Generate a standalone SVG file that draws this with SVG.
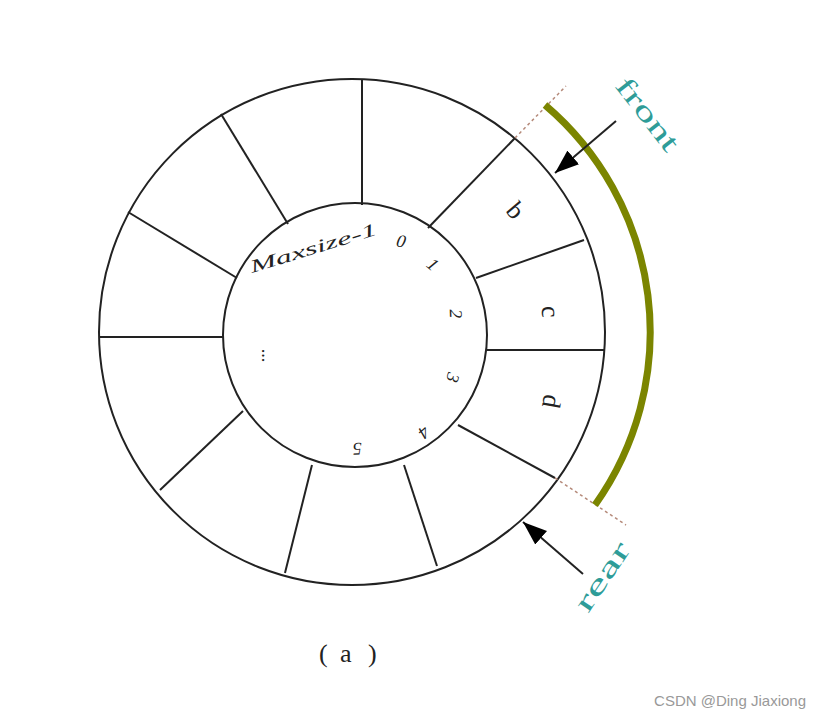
<svg xmlns="http://www.w3.org/2000/svg" width="822" height="719" viewBox="0 0 822 719">
<style>
.ring{fill:none;stroke:#222;stroke-width:2}
.spoke{stroke:#222;stroke-width:2}
.lbl{font-family:"Liberation Serif",serif;fill:#222}
.teal{font-family:"Liberation Serif",serif;fill:#2e9c98;font-size:28px}
.dash{stroke:#b58a7a;stroke-width:1.5;stroke-dasharray:3 3}
.arr{stroke:#222;stroke-width:2;fill:none}
</style>
<defs>
<marker id="tri" viewBox="0 0 24 18" refX="24" refY="9" markerWidth="24" markerHeight="18" markerUnits="userSpaceOnUse" orient="auto">
<path d="M0,0 L24,9 L0,18 z" fill="#000"/>
</marker>
</defs>
<rect width="822" height="719" fill="#fff"/>
<g id="ring">
<circle class="ring" cx="352" cy="332" r="253"/>
<circle class="ring" cx="355" cy="335" r="132"/>
</g>
<g id="spokes">
<line class="spoke" x1="362" y1="205" x2="362" y2="79"/>
<line class="spoke" x1="428" y1="228" x2="515" y2="138"/>
<line class="spoke" x1="476" y1="278" x2="584" y2="240"/>
<line class="spoke" x1="487" y1="350" x2="605" y2="350"/>
<line class="spoke" x1="458" y1="425" x2="555" y2="478"/>
<line class="spoke" x1="404" y1="465" x2="437" y2="566"/>
<line class="spoke" x1="312" y1="465" x2="285" y2="573"/>
<line class="spoke" x1="243" y1="411" x2="160" y2="490"/>
<line class="spoke" x1="224" y1="337" x2="99" y2="337"/>
<line class="spoke" x1="237" y1="278" x2="128" y2="212"/>
<line class="spoke" x1="288" y1="224" x2="221" y2="114"/>
</g>
<g id="cell-labels" class="lbl" font-size="26">
<text transform="translate(509 216) rotate(50)" text-anchor="middle">b</text>
<text transform="translate(542 312) rotate(88)" text-anchor="middle">c</text>
<text transform="translate(543 400) rotate(100)" text-anchor="middle">d</text>
</g>
<g id="index-labels" class="lbl" font-size="18" font-style="italic">
<text transform="translate(252 273) rotate(-17)" textLength="132" lengthAdjust="spacingAndGlyphs">Maxsize-1</text>
<text transform="translate(400 247) rotate(12)" text-anchor="middle">0</text>
<text transform="translate(429 269) rotate(40)" text-anchor="middle">1</text>
<text transform="translate(450 314) rotate(88)" text-anchor="middle">2</text>
<text transform="translate(447 376) rotate(105)" text-anchor="middle">3</text>
<text transform="translate(420 428) rotate(140)" text-anchor="middle">4</text>
<text transform="translate(357 443) rotate(178)" text-anchor="middle">5</text>
<text transform="translate(262 356) rotate(90)" text-anchor="middle">...</text>
</g>
<g id="connectors">
<line class="dash" x1="515" y1="138" x2="566" y2="86"/>
<line class="dash" x1="555" y1="478" x2="626" y2="525"/>
<path d="M545 105 A298 298 0 0 1 595 505" fill="none" stroke="#7b8500" stroke-width="7"/>
<line class="arr" x1="616" y1="121" x2="555" y2="173" marker-end="url(#tri)"/>
<line class="arr" x1="583" y1="574" x2="523" y2="522" marker-end="url(#tri)"/>
</g>
<g id="front">
<text class="teal" transform="translate(614 86) rotate(52)" textLength="86" lengthAdjust="spacingAndGlyphs">front</text>
</g>
<g id="rear">
<text class="teal" transform="translate(588 614) rotate(-56)" textLength="78" lengthAdjust="spacingAndGlyphs">rear</text>
</g>
<g id="caption">
<text class="lbl" y="662" font-size="26" font-weight="300"><tspan x="319">(</tspan><tspan x="340">a</tspan><tspan x="368">)</tspan></text>
</g>
<text x="806" y="706" font-family="'Liberation Sans',sans-serif" font-size="15" fill="#999" text-anchor="end">CSDN @Ding Jiaxiong</text>
</svg>
